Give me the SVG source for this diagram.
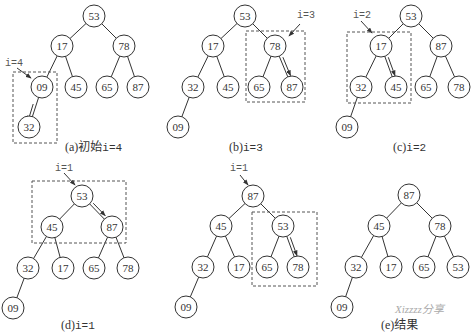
<svg xmlns="http://www.w3.org/2000/svg" width="474" height="335" viewBox="0 0 474 335">
<style>
.n circle{fill:#fff;stroke:#333;stroke-width:1}
.n text{font-family:"Liberation Serif",serif;font-size:11px;fill:#333;text-anchor:middle}
.e line{stroke:#333;stroke-width:1}
.box{fill:none;stroke:#555;stroke-width:1;stroke-dasharray:3,2}
.lbl{font-family:"Liberation Mono",monospace;font-size:10px;fill:#555}
.cap{font-family:"Liberation Serif","Noto Sans CJK SC",serif;font-size:12px;fill:#333}
.mono{font-family:"Liberation Mono",monospace;font-size:11px}
.ptr{stroke:#333;stroke-width:1;fill:none;marker-end:url(#ah)}
</style>
<defs>
<marker id="ah" viewBox="0 0 8 6" refX="7" refY="3" markerWidth="6" markerHeight="5" orient="auto" markerUnits="userSpaceOnUse">
<path d="M0,0 L8,3 L0,6 Z" fill="#333"/>
</marker>
</defs>
<rect width="474" height="335" fill="#fff"/>
<g id="connectors" class="e">
<!-- a -->
<line x1="94" y1="16" x2="62" y2="46"/><line x1="94" y1="16" x2="124" y2="46"/>
<line x1="62" y1="46" x2="42" y2="87"/><line x1="62" y1="46" x2="76" y2="87"/>
<line x1="124" y1="46" x2="107" y2="87"/><line x1="124" y1="46" x2="138" y2="87"/>
<line x1="42" y1="87" x2="29" y2="127"/>
<!-- b -->
<line x1="245" y1="16" x2="213" y2="46"/><line x1="245" y1="16" x2="275" y2="46"/>
<line x1="213" y1="46" x2="193" y2="87"/><line x1="213" y1="46" x2="228" y2="87"/>
<line x1="275" y1="46" x2="259" y2="87"/><line x1="275" y1="46" x2="292" y2="87"/>
<line x1="193" y1="87" x2="178" y2="127"/>
<!-- c -->
<line x1="411" y1="16" x2="381" y2="46"/><line x1="411" y1="16" x2="441" y2="46"/>
<line x1="381" y1="46" x2="361" y2="87"/><line x1="381" y1="46" x2="396" y2="87"/>
<line x1="441" y1="46" x2="426" y2="87"/><line x1="441" y1="46" x2="459" y2="87"/>
<line x1="361" y1="87" x2="347" y2="127"/>
<!-- d -->
<line x1="82" y1="196" x2="52" y2="227"/><line x1="82" y1="196" x2="112" y2="227"/>
<line x1="52" y1="227" x2="28" y2="268"/><line x1="52" y1="227" x2="63" y2="268"/>
<line x1="112" y1="227" x2="94" y2="268"/><line x1="112" y1="227" x2="128" y2="268"/>
<line x1="28" y1="268" x2="13" y2="308"/>
<!-- e5 -->
<line x1="253" y1="196" x2="221" y2="226"/><line x1="253" y1="196" x2="283" y2="226"/>
<line x1="221" y1="226" x2="203" y2="267"/><line x1="221" y1="226" x2="239" y2="267"/>
<line x1="283" y1="226" x2="267" y2="267"/><line x1="283" y1="226" x2="298" y2="267"/>
<line x1="203" y1="267" x2="186" y2="307"/>
<!-- e -->
<line x1="409" y1="195" x2="379" y2="226"/><line x1="409" y1="195" x2="440" y2="226"/>
<line x1="379" y1="226" x2="356" y2="267"/><line x1="379" y1="226" x2="391" y2="267"/>
<line x1="440" y1="226" x2="424" y2="267"/><line x1="440" y1="226" x2="458" y2="267"/>
<line x1="356" y1="267" x2="342" y2="307"/>
<!-- swap arrows -->
<line class="ptr" x1="33.2" y1="104" x2="28" y2="121"/>
<line class="ptr" x1="282.9" y1="57.2" x2="290.5" y2="75.6"/>
<line class="ptr" x1="388.3" y1="57.3" x2="395" y2="75.7"/>
<line class="ptr" x1="93.2" y1="203.2" x2="105.2" y2="215.6"/>
<line class="ptr" x1="290.3" y1="237.3" x2="297" y2="255.7"/>
<!-- pointer arrows -->
<line class="ptr" x1="17" y1="68" x2="31" y2="78"/>
<line class="ptr" x1="300" y1="24" x2="289" y2="36"/>
<line class="ptr" x1="361" y1="21" x2="372" y2="33"/>
<line class="ptr" x1="64" y1="173" x2="75" y2="185"/>
<line class="ptr" x1="240" y1="175" x2="248" y2="185"/>
</g>
<g id="boxes">
<rect class="box" x="13" y="72" width="44" height="71"/>
<rect class="box" x="246" y="31" width="59" height="71"/>
<rect class="box" x="347" y="32" width="64" height="71"/>
<rect class="box" x="32" y="181" width="94" height="62"/>
<rect class="box" x="252" y="212" width="65" height="74"/>
</g>
<g id="panel-a">
<g id="a53" class="n"><circle cx="94" cy="16" r="11"/><text x="94" y="20">53</text></g>
<g id="a17" class="n"><circle cx="62" cy="46" r="11"/><text x="62" y="50">17</text></g>
<g id="a78" class="n"><circle cx="124" cy="46" r="11"/><text x="124" y="50">78</text></g>
<g id="a09" class="n"><circle cx="42" cy="87" r="11"/><text x="42" y="91">09</text></g>
<g id="a45" class="n"><circle cx="76" cy="87" r="11"/><text x="76" y="91">45</text></g>
<g id="a65" class="n"><circle cx="107" cy="87" r="11"/><text x="107" y="91">65</text></g>
<g id="a87" class="n"><circle cx="138" cy="87" r="11"/><text x="138" y="91">87</text></g>
<g id="a32" class="n"><circle cx="29" cy="127" r="11"/><text x="29" y="131">32</text></g>
<text class="lbl" x="5" y="66">i=4</text>
<text class="cap" x="65" y="151">(a)初始<tspan class="mono">i=4</tspan></text>
</g>
<g id="panel-b">
<g id="b53" class="n"><circle cx="245" cy="16" r="11"/><text x="245" y="20">53</text></g>
<g id="b17" class="n"><circle cx="213" cy="46" r="11"/><text x="213" y="50">17</text></g>
<g id="b78" class="n"><circle cx="275" cy="46" r="11"/><text x="275" y="50">78</text></g>
<g id="b32" class="n"><circle cx="193" cy="87" r="11"/><text x="193" y="91">32</text></g>
<g id="b45" class="n"><circle cx="228" cy="87" r="11"/><text x="228" y="91">45</text></g>
<g id="b65" class="n"><circle cx="259" cy="87" r="11"/><text x="259" y="91">65</text></g>
<g id="b87" class="n"><circle cx="292" cy="87" r="11"/><text x="292" y="91">87</text></g>
<g id="b09" class="n"><circle cx="178" cy="127" r="11"/><text x="178" y="131">09</text></g>
<text class="lbl" x="297" y="18">i=3</text>
<text class="cap" x="229" y="151">(b)<tspan class="mono">i=3</tspan></text>
</g>
<g id="panel-c">
<g id="c53" class="n"><circle cx="411" cy="16" r="11"/><text x="411" y="20">53</text></g>
<g id="c17" class="n"><circle cx="381" cy="46" r="11"/><text x="381" y="50">17</text></g>
<g id="c87" class="n"><circle cx="441" cy="46" r="11"/><text x="441" y="50">87</text></g>
<g id="c32" class="n"><circle cx="361" cy="87" r="11"/><text x="361" y="91">32</text></g>
<g id="c45" class="n"><circle cx="396" cy="87" r="11"/><text x="396" y="91">45</text></g>
<g id="c65" class="n"><circle cx="426" cy="87" r="11"/><text x="426" y="91">65</text></g>
<g id="c78" class="n"><circle cx="459" cy="87" r="11"/><text x="459" y="91">78</text></g>
<g id="c09" class="n"><circle cx="347" cy="127" r="11"/><text x="347" y="131">09</text></g>
<text class="lbl" x="353" y="18">i=2</text>
<text class="cap" x="393" y="151">(c)<tspan class="mono">i=2</tspan></text>
</g>
<g id="panel-d">
<g id="d53" class="n"><circle cx="82" cy="196" r="11"/><text x="82" y="200">53</text></g>
<g id="d45" class="n"><circle cx="52" cy="227" r="11"/><text x="52" y="231">45</text></g>
<g id="d87" class="n"><circle cx="112" cy="227" r="11"/><text x="112" y="231">87</text></g>
<g id="d32" class="n"><circle cx="28" cy="268" r="11"/><text x="28" y="272">32</text></g>
<g id="d17" class="n"><circle cx="63" cy="268" r="11"/><text x="63" y="272">17</text></g>
<g id="d65" class="n"><circle cx="94" cy="268" r="11"/><text x="94" y="272">65</text></g>
<g id="d78" class="n"><circle cx="128" cy="268" r="11"/><text x="128" y="272">78</text></g>
<g id="d09" class="n"><circle cx="13" cy="308" r="11"/><text x="13" y="312">09</text></g>
<text class="lbl" x="55" y="171">i=1</text>
<text class="cap" x="61" y="329">(d)<tspan class="mono">i=1</tspan></text>
</g>
<g id="panel-e1">
<g id="f87" class="n"><circle cx="253" cy="196" r="11"/><text x="253" y="200">87</text></g>
<g id="f45" class="n"><circle cx="221" cy="226" r="11"/><text x="221" y="230">45</text></g>
<g id="f53" class="n"><circle cx="283" cy="226" r="11"/><text x="283" y="230">53</text></g>
<g id="f32" class="n"><circle cx="203" cy="267" r="11"/><text x="203" y="271">32</text></g>
<g id="f17" class="n"><circle cx="239" cy="267" r="11"/><text x="239" y="271">17</text></g>
<g id="f65" class="n"><circle cx="267" cy="267" r="11"/><text x="267" y="271">65</text></g>
<g id="f78" class="n"><circle cx="298" cy="267" r="11"/><text x="298" y="271">78</text></g>
<g id="f09" class="n"><circle cx="186" cy="307" r="11"/><text x="186" y="311">09</text></g>
<text class="lbl" x="230" y="171">i=1</text>
</g>
<g id="panel-e">
<g id="e87" class="n"><circle cx="409" cy="195" r="11"/><text x="409" y="199">87</text></g>
<g id="e45" class="n"><circle cx="379" cy="226" r="11"/><text x="379" y="230">45</text></g>
<g id="e78" class="n"><circle cx="440" cy="226" r="11"/><text x="440" y="230">78</text></g>
<g id="e32" class="n"><circle cx="356" cy="267" r="11"/><text x="356" y="271">32</text></g>
<g id="e17" class="n"><circle cx="391" cy="267" r="11"/><text x="391" y="271">17</text></g>
<g id="e65" class="n"><circle cx="424" cy="267" r="11"/><text x="424" y="271">65</text></g>
<g id="e53" class="n"><circle cx="458" cy="267" r="11"/><text x="458" y="271">53</text></g>
<g id="e09" class="n"><circle cx="342" cy="307" r="11"/><text x="342" y="311">09</text></g>
<text x="395" y="313" font-family="Liberation Serif,'Noto Sans CJK SC',serif" font-size="11" font-style="italic" fill="#aaa">Xizzzz分享</text>
<text class="cap" x="381" y="329">(e)结果</text>
</g>
</svg>
